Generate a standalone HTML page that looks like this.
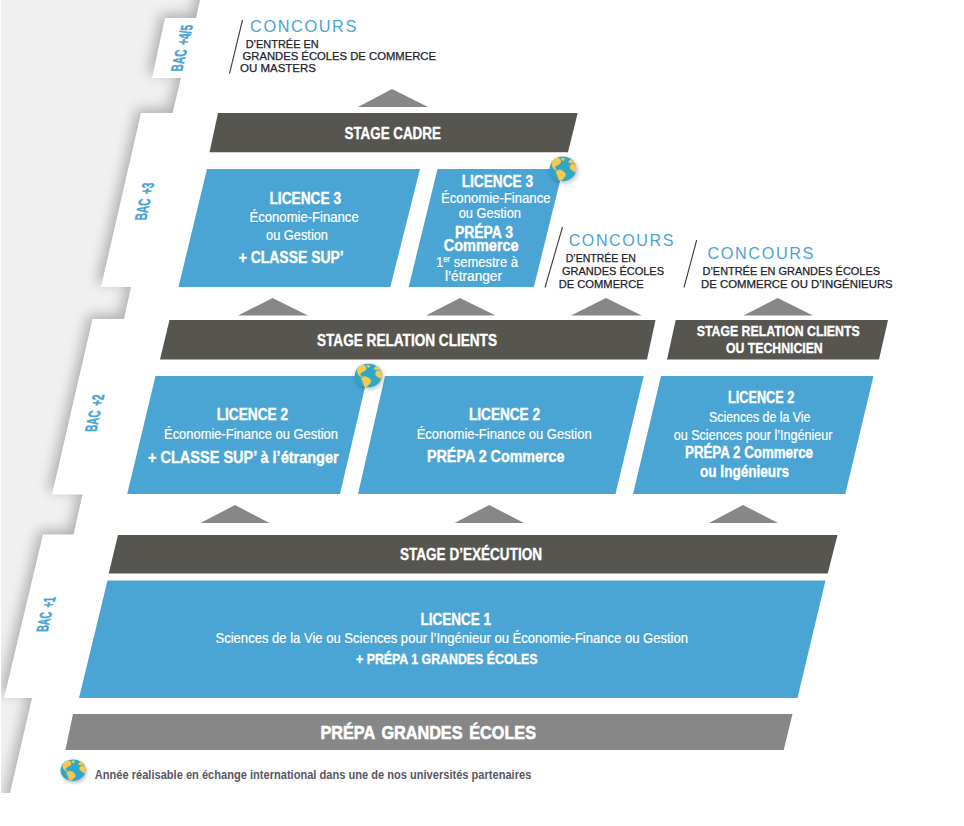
<!DOCTYPE html>
<html lang="fr">
<head>
<meta charset="utf-8">
<title>Prépa Grandes Écoles</title>
<style>
html,body{margin:0;padding:0;background:#fff;}
body{width:964px;height:826px;overflow:hidden;}
svg{display:block;}
text{font-family:"Liberation Sans",Arial,sans-serif;}
.b{font-weight:700;}
.b.w{stroke:#fff;stroke-width:0.35px;}
.k{stroke-width:0.5px;}
.r{font-weight:400;}
.r.w{stroke:#fff;stroke-width:0.2px;}
.w{fill:#fff;}
.c{font-weight:400;}
.s{font-weight:400;fill:#221e2c;stroke:#221e2c;stroke-width:0.25px;}
</style>
</head>
<body>
<svg width="964" height="826" viewBox="0 0 964 826">
<defs>
<filter id="sh" x="-10%" y="-10%" width="120%" height="120%"><feGaussianBlur stdDeviation="6.5"/></filter>
<filter id="gsh" x="-50%" y="-50%" width="200%" height="200%"><feGaussianBlur stdDeviation="2"/></filter>
<clipPath id="greyclip"><rect x="1" y="0" width="300" height="793"/></clipPath>
<clipPath id="pageclip"><rect x="0" y="0" width="964" height="793"/></clipPath>
<clipPath id="gc"><ellipse cx="0" cy="0" rx="13.5" ry="11.85"/></clipPath>
</defs>
<rect x="0" y="0" width="964" height="826" fill="#fff"/>
<g clip-path="url(#greyclip)">
<rect x="1" y="0" width="240" height="793" fill="#f0f0f0"/>
<polygon points="964.0,-20.0 204.8,-20.0 200.0,0.0 196.0,18.0 165.0,18.0 152.0,78.0 181.0,78.0 172.5,113.0 141.0,113.0 101.0,287.0 131.0,287.0 124.0,319.0 92.5,319.0 52.0,494.5 82.5,494.5 73.5,534.5 43.0,534.5 4.0,698.0 32.0,698.0 10.0,793.0 5.0,815.0 964.0,815.0" fill="#000" filter="url(#sh)" opacity="0.27" transform="translate(-4 -4)"/>
</g>
<polygon points="964.0,-20.0 204.8,-20.0 200.0,0.0 196.0,18.0 165.0,18.0 152.0,78.0 181.0,78.0 172.5,113.0 141.0,113.0 101.0,287.0 131.0,287.0 124.0,319.0 92.5,319.0 52.0,494.5 82.5,494.5 73.5,534.5 43.0,534.5 4.0,698.0 32.0,698.0 10.0,793.0 5.0,815.0 964.0,815.0" fill="#fff" clip-path="url(#pageclip)"/>
<polygon points="218.0,113.0 577.7,113.0 568.0,152.3 209.5,152.3" fill="#575550"/>
<polygon points="169.5,320.0 655.5,320.0 647.0,359.5 160.0,359.5" fill="#575550"/>
<polygon points="675.7,320.0 888.0,320.0 879.0,359.5 667.0,359.5" fill="#575550"/>
<polygon points="118.0,534.9 837.5,534.9 827.7,573.6 108.7,573.6" fill="#575550"/>
<polygon points="73.0,714.0 792.5,714.0 783.7,750.0 65.4,750.0" fill="#878787"/>
<polygon points="207.0,169.0 420.0,169.0 390.3,287.0 178.5,287.0" fill="#4ba5d4"/>
<polygon points="437.5,169.0 563.0,169.0 533.9,287.0 408.7,287.0" fill="#4ba5d4"/>
<polygon points="155.5,376.0 367.6,376.0 340.0,494.0 127.2,494.0" fill="#4ba5d4"/>
<polygon points="385.0,376.0 643.7,376.0 615.5,494.0 358.0,494.0" fill="#4ba5d4"/>
<polygon points="661.0,376.0 873.5,376.0 845.3,494.0 633.0,494.0" fill="#4ba5d4"/>
<polygon points="107.5,580.5 825.5,580.5 797.5,698.0 79.0,698.0" fill="#4ba5d4"/>
<polygon points="392.0,89.0 428.0,107.0 358.0,107.0" fill="#878787"/>
<polygon points="272.5,298.0 308.0,315.5 238.0,315.5" fill="#878787"/>
<polygon points="460.0,298.0 495.5,315.5 426.0,315.5" fill="#878787"/>
<polygon points="606.0,298.0 641.7,315.5 571.0,315.5" fill="#878787"/>
<polygon points="777.7,298.0 813.0,315.5 743.5,315.5" fill="#878787"/>
<polygon points="235.0,505.0 269.5,523.0 200.5,523.0" fill="#878787"/>
<polygon points="489.2,505.0 524.0,523.0 454.5,523.0" fill="#878787"/>
<polygon points="743.0,505.0 778.0,523.0 709.0,523.0" fill="#878787"/>
<line x1="242.5" y1="20.0" x2="229.5" y2="73.6" stroke="#3c3c3c" stroke-width="1.1"/>
<line x1="562.5" y1="227.0" x2="545.0" y2="287.5" stroke="#3c3c3c" stroke-width="1.1"/>
<line x1="696.7" y1="240.0" x2="684.0" y2="287.5" stroke="#3c3c3c" stroke-width="1.1"/>
<text class="c" x="250.0" y="32.0" font-size="16.2" textLength="108.0" lengthAdjust="spacingAndGlyphs" letter-spacing="1.6" fill="#4ba4d4">CONCOURS</text>
<text class="s" x="245.7" y="47.5" font-size="10.6" textLength="73.0" lengthAdjust="spacingAndGlyphs">D’ENTRÉE EN</text>
<text class="s" x="242.5" y="60.2" font-size="10.6" textLength="193.5" lengthAdjust="spacingAndGlyphs">GRANDES ÉCOLES DE COMMERCE</text>
<text class="s" x="240.0" y="72.0" font-size="10.6" textLength="76.0" lengthAdjust="spacingAndGlyphs">OU MASTERS</text>
<text class="c" x="568.7" y="246.0" font-size="16.2" textLength="106.3" lengthAdjust="spacingAndGlyphs" letter-spacing="1.6" fill="#4ba4d4">CONCOURS</text>
<text class="s" x="565.7" y="262.0" font-size="10.6" textLength="70.3" lengthAdjust="spacingAndGlyphs">D’ENTRÉE EN</text>
<text class="s" x="562.0" y="274.5" font-size="10.6" textLength="102.0" lengthAdjust="spacingAndGlyphs">GRANDES ÉCOLES</text>
<text class="s" x="558.7" y="288.2" font-size="10.6" textLength="85.0" lengthAdjust="spacingAndGlyphs">DE COMMERCE</text>
<text class="c" x="707.5" y="258.7" font-size="16.2" textLength="107.5" lengthAdjust="spacingAndGlyphs" letter-spacing="1.6" fill="#4ba4d4">CONCOURS</text>
<text class="s" x="702.5" y="274.5" font-size="10.6" textLength="177.5" lengthAdjust="spacingAndGlyphs">D’ENTRÉE EN GRANDES ÉCOLES</text>
<text class="s" x="701.0" y="288.2" font-size="10.6" textLength="191.7" lengthAdjust="spacingAndGlyphs">DE COMMERCE OU D’INGÉNIEURS</text>
<text class="b w" x="344.5" y="139.0" font-size="16.0" textLength="96.3" lengthAdjust="spacingAndGlyphs">STAGE CADRE</text>
<text class="b w" x="317.0" y="345.6" font-size="16.0" textLength="180.0" lengthAdjust="spacingAndGlyphs">STAGE RELATION CLIENTS</text>
<text class="b w" x="696.7" y="335.8" font-size="15.3" textLength="163.0" lengthAdjust="spacingAndGlyphs">STAGE RELATION CLIENTS</text>
<text class="b w" x="726.0" y="353.2" font-size="15.5" textLength="96.7" lengthAdjust="spacingAndGlyphs">OU TECHNICIEN</text>
<text class="b w" x="400.0" y="560.0" font-size="16.0" textLength="142.0" lengthAdjust="spacingAndGlyphs">STAGE D’EXÉCUTION</text>
<text class="b w" x="320.5" y="739.3" font-size="17.5" textLength="215.5" lengthAdjust="spacingAndGlyphs" style="stroke-width:0.6px" word-spacing="2.5">PRÉPA GRANDES ÉCOLES</text>
<text class="b w" x="269.5" y="204.0" font-size="16.0" textLength="71.5" lengthAdjust="spacingAndGlyphs">LICENCE 3</text>
<text class="r w" x="249.5" y="222.0" font-size="15.0" textLength="109.2" lengthAdjust="spacingAndGlyphs">Économie-Finance</text>
<text class="r w" x="266.0" y="240.0" font-size="15.0" textLength="62.0" lengthAdjust="spacingAndGlyphs">ou Gestion</text>
<text class="b w" x="238.7" y="263.2" font-size="16.0" textLength="105.0" lengthAdjust="spacingAndGlyphs">+ CLASSE SUP’</text>
<text class="b w" x="461.7" y="186.5" font-size="16.0" textLength="71.3" lengthAdjust="spacingAndGlyphs">LICENCE 3</text>
<text class="r w" x="441.0" y="202.5" font-size="15.0" textLength="109.5" lengthAdjust="spacingAndGlyphs">Économie-Finance</text>
<text class="r w" x="458.7" y="218.2" font-size="15.0" textLength="62.3" lengthAdjust="spacingAndGlyphs">ou Gestion</text>
<text class="b w" x="455.0" y="238.2" font-size="16.0" textLength="58.0" lengthAdjust="spacingAndGlyphs">PRÉPA 3</text>
<text class="b w" x="443.7" y="250.5" font-size="16.0" textLength="75.0" lengthAdjust="spacingAndGlyphs">Commerce</text>
<text class="r w" x="436.0" y="266.5" font-size="15.0" textLength="82.0" lengthAdjust="spacingAndGlyphs">1<tspan font-size="9" dy="-5">er</tspan><tspan dy="5"> semestre à</tspan></text>
<text class="r w" x="445.0" y="280.5" font-size="15.0" textLength="57.0" lengthAdjust="spacingAndGlyphs">l’étranger</text>
<text class="b w" x="216.7" y="419.5" font-size="16.0" textLength="71.3" lengthAdjust="spacingAndGlyphs">LICENCE 2</text>
<text class="r w" x="164.0" y="438.5" font-size="15.0" textLength="174.0" lengthAdjust="spacingAndGlyphs">Économie-Finance ou Gestion</text>
<text class="b w" x="148.0" y="462.5" font-size="16.0" textLength="190.7" lengthAdjust="spacingAndGlyphs">+ CLASSE SUP’ à l’étranger</text>
<text class="b w" x="469.0" y="419.5" font-size="16.0" textLength="71.0" lengthAdjust="spacingAndGlyphs">LICENCE 2</text>
<text class="r w" x="416.7" y="439.0" font-size="15.0" textLength="175.0" lengthAdjust="spacingAndGlyphs">Économie-Finance ou Gestion</text>
<text class="b w" x="427.0" y="462.0" font-size="16.0" textLength="137.5" lengthAdjust="spacingAndGlyphs">PRÉPA 2 Commerce</text>
<text class="b w" x="728.0" y="402.8" font-size="16.0" textLength="66.3" lengthAdjust="spacingAndGlyphs">LICENCE 2</text>
<text class="r w" x="709.0" y="422.0" font-size="15.0" textLength="101.5" lengthAdjust="spacingAndGlyphs">Sciences de la Vie</text>
<text class="r w" x="673.7" y="440.0" font-size="15.0" textLength="158.8" lengthAdjust="spacingAndGlyphs">ou Sciences pour l’Ingénieur</text>
<text class="b w" x="685.0" y="457.5" font-size="16.0" textLength="128.0" lengthAdjust="spacingAndGlyphs">PRÉPA 2 Commerce</text>
<text class="b w" x="700.0" y="476.5" font-size="16.0" textLength="89.0" lengthAdjust="spacingAndGlyphs">ou Ingénieurs</text>
<text class="b w" x="420.5" y="624.7" font-size="16.0" textLength="70.5" lengthAdjust="spacingAndGlyphs">LICENCE 1</text>
<text class="r w" x="215.5" y="643.2" font-size="15.0" textLength="472.5" lengthAdjust="spacingAndGlyphs">Sciences de la Vie ou Sciences pour l’Ingénieur ou Économie-Finance ou Gestion</text>
<text class="b w" x="356.0" y="663.7" font-size="14.8" textLength="181.5" lengthAdjust="spacingAndGlyphs">+ PRÉPA 1 GRANDES ÉCOLES</text>
<text class="b k" word-spacing="3" transform="matrix(0.240 -1 1 0 181.9 71.4)" x="0" y="0" font-size="16.5" textLength="46.4" lengthAdjust="spacingAndGlyphs" fill="#4ba4d4" stroke="#4ba4d4">BAC +4/5</text>
<text class="b k" word-spacing="3" transform="matrix(0.220 -1 1 0 146.0 220.2)" x="0" y="0" font-size="16.5" textLength="37.6" lengthAdjust="spacingAndGlyphs" fill="#4ba4d4" stroke="#4ba4d4">BAC +3</text>
<text class="b k" word-spacing="3" transform="matrix(0.220 -1 1 0 96.2 431.8)" x="0" y="0" font-size="16.5" textLength="37.2" lengthAdjust="spacingAndGlyphs" fill="#4ba4d4" stroke="#4ba4d4">BAC +2</text>
<text class="b k" word-spacing="3" transform="matrix(0.240 -1 1 0 47.4 631.8)" x="0" y="0" font-size="16.5" textLength="34.8" lengthAdjust="spacingAndGlyphs" fill="#4ba4d4" stroke="#4ba4d4">BAC +1</text>
<text class="b" x="94.8" y="778.5" font-size="12.4" textLength="436.5" lengthAdjust="spacingAndGlyphs" fill="#5b5763">Année réalisable en échange international dans une de nos universités partenaires</text>
<g transform="translate(562.9 168.9) scale(0.9852 1.0380)"><ellipse cx="1.2" cy="1.6" rx="14.2" ry="12.6" fill="#000" opacity="0.22" filter="url(#gsh)"/><ellipse cx="0" cy="0" rx="13.5" ry="11.85" fill="#2ea7c9"/><g fill="#f7c94c" stroke="#f7c94c" stroke-width="0.5" stroke-linejoin="round" clip-path="url(#gc)"><path d="M-11.2,-5.8 L-9.6,-9.0 L-7.0,-10.8 L-4.4,-10.5 L-2.3,-8.4 L-2.1,-6.4 L-3.4,-4.8 L-6.0,-3.5 L-7.8,-2.2 L-8.1,-0.6 L-7.0,0.4 L-6.2,1.5 L-7.5,1.2 L-9.6,-0.6 L-10.9,-2.7 Z"/><path d="M-1.6,-10.0 L1.6,-10.3 L1.3,-8.7 L0.3,-7.7 L-1.0,-8.7 Z"/><path d="M-6.5,2.0 L-3.4,0.9 L-0.3,2.0 L2.3,4.1 L2.6,6.7 L0.8,8.8 L-0.8,10.6 L-2.9,11.9 L-4.4,9.8 L-5.5,6.1 L-6.8,4.1 Z"/><path d="M6.0,-7.4 L8.1,-9.2 L10.7,-6.9 L11.2,-5.8 L8.6,-5.6 L6.0,-6.1 Z"/><path d="M8.1,-4.3 L11.7,-5.0 L13.5,-1.7 L13.5,2.0 L12.2,3.3 L10.2,1.7 L7.5,-0.1 L7.3,-2.7 Z"/></g></g>
<g transform="translate(368.3 375.5) scale(1.0000 1.0000)"><ellipse cx="1.2" cy="1.6" rx="14.2" ry="12.6" fill="#000" opacity="0.22" filter="url(#gsh)"/><ellipse cx="0" cy="0" rx="13.5" ry="11.85" fill="#2ea7c9"/><g fill="#f7c94c" stroke="#f7c94c" stroke-width="0.5" stroke-linejoin="round" clip-path="url(#gc)"><path d="M-11.2,-5.8 L-9.6,-9.0 L-7.0,-10.8 L-4.4,-10.5 L-2.3,-8.4 L-2.1,-6.4 L-3.4,-4.8 L-6.0,-3.5 L-7.8,-2.2 L-8.1,-0.6 L-7.0,0.4 L-6.2,1.5 L-7.5,1.2 L-9.6,-0.6 L-10.9,-2.7 Z"/><path d="M-1.6,-10.0 L1.6,-10.3 L1.3,-8.7 L0.3,-7.7 L-1.0,-8.7 Z"/><path d="M-6.5,2.0 L-3.4,0.9 L-0.3,2.0 L2.3,4.1 L2.6,6.7 L0.8,8.8 L-0.8,10.6 L-2.9,11.9 L-4.4,9.8 L-5.5,6.1 L-6.8,4.1 Z"/><path d="M6.0,-7.4 L8.1,-9.2 L10.7,-6.9 L11.2,-5.8 L8.6,-5.6 L6.0,-6.1 Z"/><path d="M8.1,-4.3 L11.7,-5.0 L13.5,-1.7 L13.5,2.0 L12.2,3.3 L10.2,1.7 L7.5,-0.1 L7.3,-2.7 Z"/></g></g>
<g transform="translate(73.0 770.2) scale(0.9185 0.9114)"><ellipse cx="1.2" cy="1.6" rx="14.2" ry="12.6" fill="#000" opacity="0.22" filter="url(#gsh)"/><ellipse cx="0" cy="0" rx="13.5" ry="11.85" fill="#2ea7c9"/><g fill="#f7c94c" stroke="#f7c94c" stroke-width="0.5" stroke-linejoin="round" clip-path="url(#gc)"><path d="M-11.2,-5.8 L-9.6,-9.0 L-7.0,-10.8 L-4.4,-10.5 L-2.3,-8.4 L-2.1,-6.4 L-3.4,-4.8 L-6.0,-3.5 L-7.8,-2.2 L-8.1,-0.6 L-7.0,0.4 L-6.2,1.5 L-7.5,1.2 L-9.6,-0.6 L-10.9,-2.7 Z"/><path d="M-1.6,-10.0 L1.6,-10.3 L1.3,-8.7 L0.3,-7.7 L-1.0,-8.7 Z"/><path d="M-6.5,2.0 L-3.4,0.9 L-0.3,2.0 L2.3,4.1 L2.6,6.7 L0.8,8.8 L-0.8,10.6 L-2.9,11.9 L-4.4,9.8 L-5.5,6.1 L-6.8,4.1 Z"/><path d="M6.0,-7.4 L8.1,-9.2 L10.7,-6.9 L11.2,-5.8 L8.6,-5.6 L6.0,-6.1 Z"/><path d="M8.1,-4.3 L11.7,-5.0 L13.5,-1.7 L13.5,2.0 L12.2,3.3 L10.2,1.7 L7.5,-0.1 L7.3,-2.7 Z"/></g></g>
</svg>
</body>
</html>
